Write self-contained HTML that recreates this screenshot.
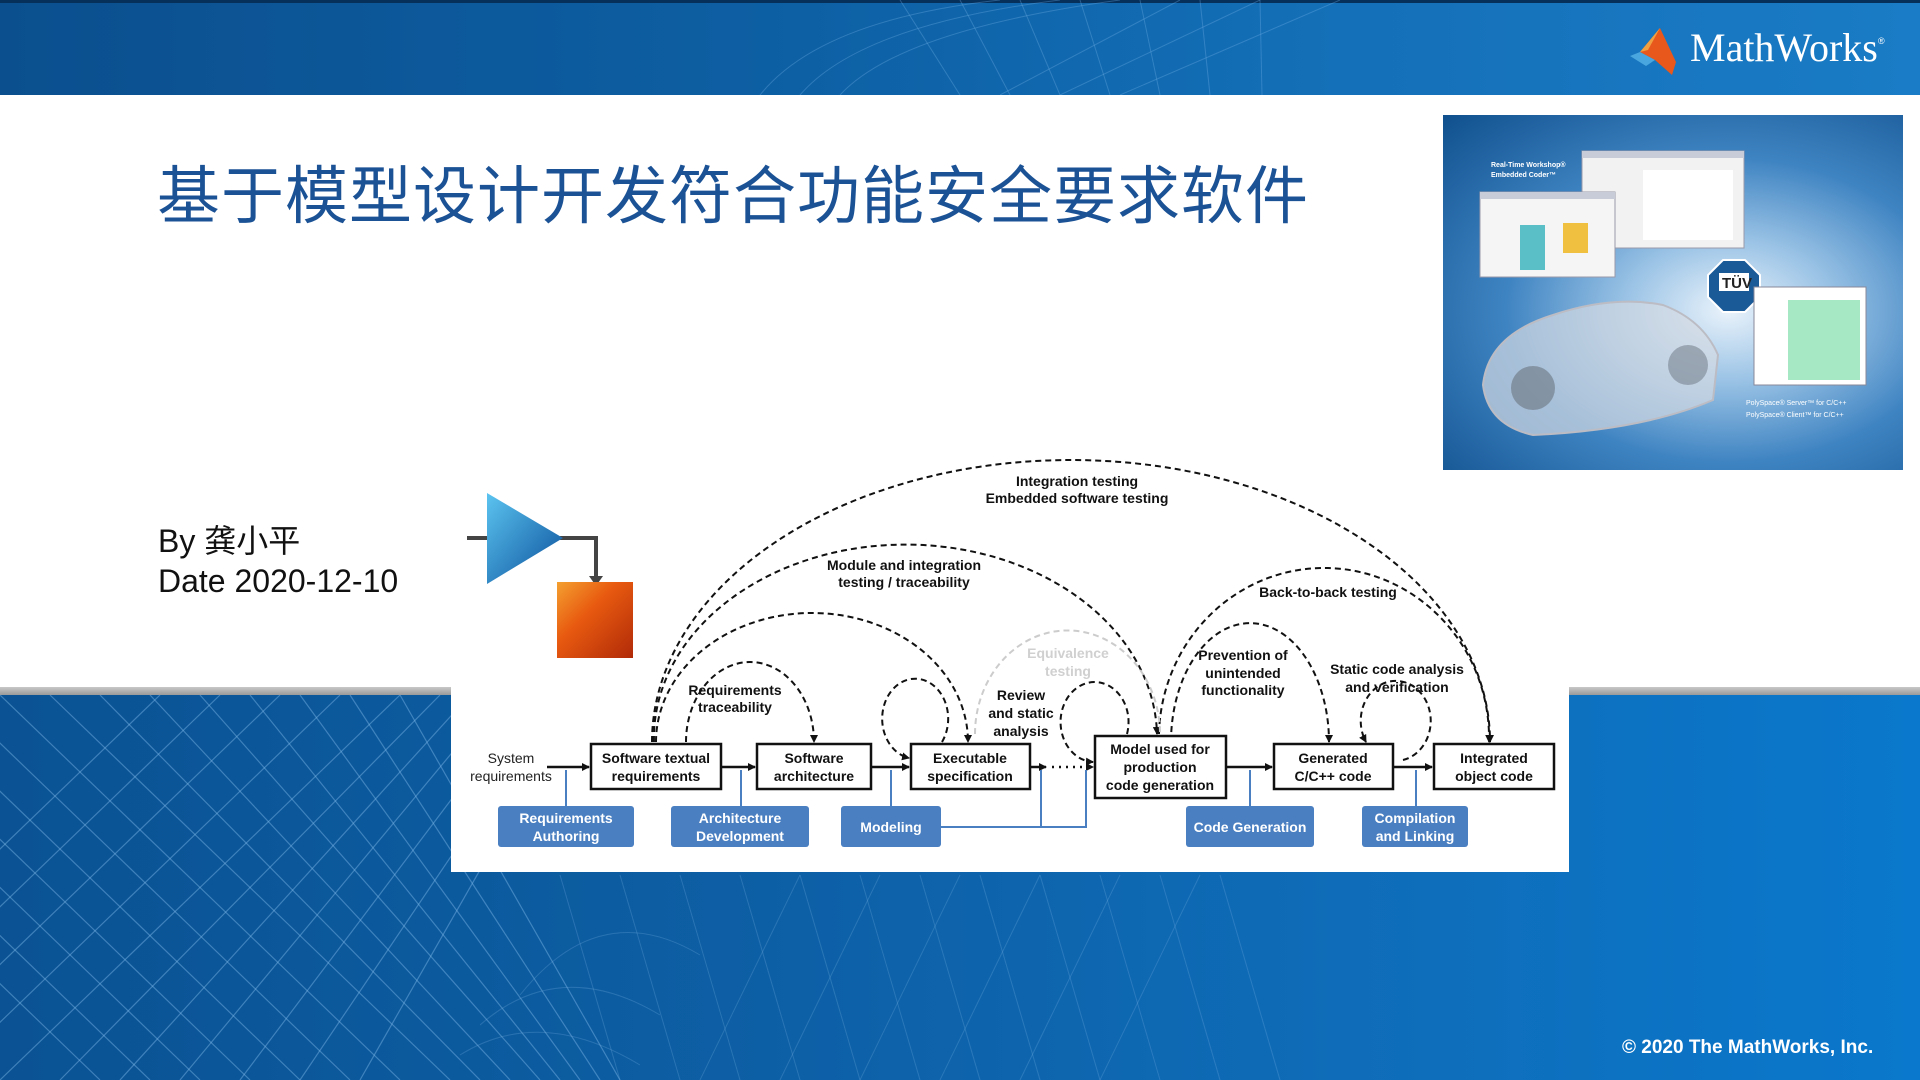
<!DOCTYPE html>
<html><head><meta charset="utf-8"><style>
html,body{margin:0;padding:0}
body{width:1920px;height:1080px;position:relative;overflow:hidden;background:#fff;font-family:"Liberation Sans","Noto Sans CJK SC",sans-serif}
.abs{position:absolute}
</style></head><body>
<!-- header -->
<div class="abs" style="left:0;top:0;width:1920px;height:95px;background:linear-gradient(90deg,#0b4f8e 0%,#0d5fa3 40%,#1470b8 70%,#1a7cc6 100%);border-top:3px solid #062f5a;box-sizing:border-box"></div>
<svg class="abs" style="left:0;top:0" width="1920" height="95">
<g stroke="#6fb0e6" stroke-opacity="0.35" fill="none" stroke-width="1">
<path d="M760 95 Q820 20 1000 0"/><path d="M800 95 Q860 25 1060 0"/><path d="M840 95 Q900 30 1120 0"/>
<path d="M900 0 L960 95"/><path d="M960 0 L1010 95"/><path d="M1020 0 L1060 95"/><path d="M1080 0 L1110 95"/><path d="M1140 0 L1160 95"/><path d="M1200 0 L1210 95"/><path d="M1260 0 L1262 95"/>
<path d="M1000 95 L1180 0"/><path d="M1060 95 L1260 0"/><path d="M1120 95 L1340 0"/>
</g>
<polygon points="1660,28 1676,62 1672,75 1655,60 1640,52" fill="#e8581c"/>
<polygon points="1660,28 1648,50 1640,52" fill="#f0a040"/>
<polygon points="1640,52 1655,60 1646,66 1630,56" fill="#4aa6de"/>
<text x="1690" y="61" font-family="Liberation Serif,serif" font-size="40" fill="#fff">MathWorks</text>
<text x="1878" y="44" font-family="Liberation Sans" font-size="9" fill="#fff">®</text>
</svg>
<!-- gray separator and bottom -->
<div class="abs" style="left:0;top:687px;width:1920px;height:8px;background:linear-gradient(#c8c8c8,#9a9a9a)"></div>
<div class="abs" style="left:0;top:695px;width:1920px;height:385px;background:linear-gradient(90deg,#0a5293 0%,#0d5fa5 40%,#0f6cb8 70%,#0a78cc 100%)"></div>
<svg class="abs" style="left:0;top:695px" width="1920" height="385">
<g stroke="#7fb8e8" stroke-opacity="0.45" fill="none" stroke-width="1.2">
<path d="M-300 0 L100 385"/><path d="M-250 0 L150 385"/><path d="M-200 0 L200 385"/><path d="M-150 0 L250 385"/><path d="M-100 0 L300 385"/><path d="M-50 0 L350 385"/><path d="M0 0 L400 385"/><path d="M50 0 L450 385"/><path d="M100 0 L480 385"/><path d="M150 0 L510 385"/><path d="M200 0 L540 385"/><path d="M250 0 L560 385"/><path d="M300 0 L580 385"/><path d="M350 0 L600 385"/><path d="M400 0 L620 385"/>
<path d="M0 385 L400 0"/><path d="M-60 385 L340 0"/><path d="M-120 385 L280 0"/><path d="M-180 385 L220 0"/><path d="M-240 385 L160 0"/><path d="M60 385 L440 0"/><path d="M120 385 L470 0"/><path d="M180 385 L500 0"/><path d="M240 385 L530 0"/><path d="M300 385 L560 0"/><path d="M360 385 L580 0"/>
</g>
<g stroke="#7fb8e8" stroke-opacity="0.25" fill="none">
<path d="M560 180 L620 385"/><path d="M620 180 L680 385"/><path d="M680 180 L740 385"/><path d="M740 180 L800 385"/><path d="M800 180 L860 385"/><path d="M860 180 L920 385"/><path d="M920 180 L980 385"/><path d="M980 180 L1040 385"/><path d="M1040 180 L1100 385"/><path d="M1100 180 L1160 385"/><path d="M1160 180 L1220 385"/><path d="M1220 180 L1280 385"/>
<path d="M700 385 L800 180"/><path d="M780 385 L880 180"/><path d="M860 385 L960 180"/><path d="M940 385 L1040 180"/><path d="M1020 385 L1120 180"/><path d="M1100 385 L1200 180"/>
<path d="M520 300 Q600 200 700 260"/><path d="M480 330 Q560 260 660 320"/><path d="M460 360 Q540 310 640 370"/>
</g>
</svg>
<div class="abs" style="left:1622px;top:1037px;font-size:19px;font-weight:bold;color:#fff;white-space:nowrap">© 2020 The MathWorks, Inc.</div>

<!-- title -->
<div class="abs" style="left:157px;top:146px;font-size:63px;color:#1b5296;font-family:'Liberation Sans','Noto Sans CJK SC',sans-serif;letter-spacing:1px;white-space:nowrap">基于模型设计开发符合功能安全要求软件</div>
<div class="abs" style="left:158px;top:516px;font-size:32px;color:#111">By 龚小平</div>
<div class="abs" style="left:158px;top:563px;font-size:32px;color:#111">Date 2020-12-10</div>

<!-- photo -->
<div class="abs" style="left:1443px;top:115px;width:460px;height:355px;background:radial-gradient(ellipse at 62% 55%,#eaf3fb 0%,#9cc4e6 25%,#3f84c2 55%,#0f4f8e 100%)"></div>
<svg class="abs" style="left:1443px;top:115px" width="460" height="355">
<text x="48" y="52" font-size="7" fill="#fff" font-weight="bold">Real-Time Workshop®</text>
<text x="48" y="62" font-size="7" fill="#fff" font-weight="bold">Embedded Coder™</text>
<rect x="139" y="36" width="162" height="97" fill="#f2f2f2" stroke="#99a" />
<rect x="139" y="36" width="162" height="7" fill="#c8ccd8"/>
<rect x="200" y="55" width="90" height="70" fill="#fff"/>
<rect x="37" y="77" width="135" height="85" fill="#f5f5f5" stroke="#99a"/>
<rect x="37" y="77" width="135" height="7" fill="#c8ccd8"/>
<rect x="77" y="110" width="25" height="45" fill="#5bbfc8"/>
<rect x="120" y="108" width="25" height="30" fill="#f0c040"/>
<polygon points="280,145 302,145 317,160 317,182 302,197 280,197 265,182 265,160" fill="#1a5a96" stroke="#fff" stroke-width="2"/>
<rect x="276" y="158" width="30" height="18" fill="#fff"/>
<text x="279" y="173" font-size="15" font-weight="bold" fill="#222">TÜV</text>
<rect x="311" y="172" width="112" height="98" fill="#fff" stroke="#889"/>
<rect x="345" y="185" width="72" height="80" fill="#a6e8c4"/>
<g fill="none" stroke="#bbbcc4" stroke-width="2">
<path d="M40 270 Q45 220 110 200 Q170 180 220 190 Q260 205 275 240 L270 285 Q200 315 90 320 Q45 310 40 270Z" fill="#d4dae2" fill-opacity="0.7"/>
</g>
<circle cx="90" cy="273" r="22" fill="#6a7480" opacity="0.6"/>
<circle cx="245" cy="250" r="20" fill="#6a7480" opacity="0.5"/>
<text x="303" y="290" font-size="7" fill="#fff">PolySpace® Server™ for C/C++</text>
<text x="303" y="302" font-size="7" fill="#fff">PolySpace® Client™ for C/C++</text>
</svg>

<!-- simulink icon -->
<svg class="abs" style="left:460px;top:480px" width="200" height="200">
<defs><linearGradient id="tri" x1="0" y1="0" x2="1" y2="1"><stop offset="0" stop-color="#5cc4f0"/><stop offset="1" stop-color="#0a4f9a"/></linearGradient>
<linearGradient id="sq" x1="0" y1="0" x2="1" y2="1"><stop offset="0" stop-color="#f4a030"/><stop offset=".4" stop-color="#e85a10"/><stop offset="1" stop-color="#b02a08"/></linearGradient></defs>
<line x1="7" y1="58" x2="30" y2="58" stroke="#444" stroke-width="4"/>
<polyline points="100,58 136,58 136,98" fill="none" stroke="#444" stroke-width="4"/>
<polygon points="129,96 143,96 136,106" fill="#444"/>
<polygon points="27,13 103,58 27,104" fill="url(#tri)"/>
<rect x="97" y="102" width="76" height="76" fill="url(#sq)"/>
</svg>

<!-- diagram panel -->
<div class="abs" style="left:451px;top:687px;width:1118px;height:185px;background:#fff"></div>
<svg class="abs" style="left:0;top:0" width="1920" height="1080" font-family="Liberation Sans,sans-serif">
<defs><marker id="ah" markerWidth="8" markerHeight="8" refX="7" refY="4" orient="auto" markerUnits="userSpaceOnUse"><path d="M0,0 L8,4 L0,8Z" fill="#111"/></marker></defs>
<g fill="none" stroke="#111" stroke-width="2" stroke-dasharray="6 4">
<path d="M652 742 A419 282 0 0 1 1490 742" marker-end="url(#ah)"/>
<path d="M654 742 A251 193 0 0 1 1157 734" marker-end="url(#ah)"/>
<path d="M656 742 A156 129 0 0 1 968 742" marker-end="url(#ah)"/>
<path d="M686 742 A64 80 0 0 1 814 742" marker-end="url(#ah)"/>
<path d="M1159 734 A165 170 0 0 1 1489 742" marker-end="url(#ah)"/>
<path d="M1171 742 A79 119 0 0 1 1329 742" marker-end="url(#ah)"/>
<path d="M942 742 A33 40 0 1 0 909 758" marker-end="url(#ah)"/>
<path d="M1127 734 A34 40 0 1 0 1093 762" marker-end="url(#ah)"/>
<path d="M1403 760 A35 40 0 1 0 1366 742" marker-end="url(#ah)"/>
</g>
<path d="M975 734 A92 103 0 0 1 1160 734" fill="none" stroke="#ccc" stroke-width="2" stroke-dasharray="6 4"/>
<g stroke="#111" stroke-width="2.5" fill="none">
<line x1="547" y1="767" x2="589" y2="767" marker-end="url(#ah)"/>
<line x1="721" y1="767" x2="755" y2="767" marker-end="url(#ah)"/>
<line x1="871" y1="767" x2="909" y2="767" marker-end="url(#ah)"/>
<line x1="1030" y1="767" x2="1046" y2="767" marker-end="url(#ah)"/>
<line x1="1052" y1="767" x2="1093" y2="767" stroke-dasharray="2 5" marker-end="url(#ah)"/>
<line x1="1226" y1="767" x2="1272" y2="767" marker-end="url(#ah)"/>
<line x1="1393" y1="767" x2="1432" y2="767" marker-end="url(#ah)"/>
</g>
<g stroke="#4a7fc1" stroke-width="2" fill="none">
<line x1="566" y1="806" x2="566" y2="770"/><line x1="741" y1="806" x2="741" y2="770"/>
<line x1="891" y1="806" x2="891" y2="770"/><polyline points="941,827 1086,827 1086,770"/>
<line x1="1041" y1="827" x2="1041" y2="770"/><line x1="1250" y1="806" x2="1250" y2="770"/><line x1="1416" y1="806" x2="1416" y2="770"/>
</g>
<g fill="#fff" stroke="#111" stroke-width="2.5">
<rect x="591" y="744" width="130" height="45"/><rect x="757" y="744" width="114" height="45"/>
<rect x="911" y="744" width="119" height="45"/><rect x="1095" y="736" width="131" height="62"/>
<rect x="1274" y="744" width="119" height="45"/><rect x="1434" y="744" width="120" height="45"/>
</g>
<g fill="#4a7fc1">
<rect x="498" y="806" width="136" height="41" rx="3"/><rect x="671" y="806" width="138" height="41" rx="3"/>
<rect x="841" y="806" width="100" height="41" rx="3"/><rect x="1186" y="806" width="128" height="41" rx="3"/>
<rect x="1362" y="806" width="106" height="41" rx="3"/>
</g>
<g font-size="14" font-weight="bold" fill="#fff" text-anchor="middle">
<text x="566" y="823">Requirements</text><text x="566" y="841">Authoring</text>
<text x="740" y="823">Architecture</text><text x="740" y="841">Development</text>
<text x="891" y="832">Modeling</text><text x="1250" y="832">Code Generation</text>
<text x="1415" y="823">Compilation</text><text x="1415" y="841">and Linking</text>
</g>
<g font-size="14" font-weight="bold" fill="#111" text-anchor="middle">
<text x="656" y="763">Software textual</text><text x="656" y="781">requirements</text>
<text x="814" y="763">Software</text><text x="814" y="781">architecture</text>
<text x="970" y="763">Executable</text><text x="970" y="781">specification</text>
<text x="1160" y="754">Model used for</text><text x="1160" y="772">production</text><text x="1160" y="790">code generation</text>
<text x="1333" y="763">Generated</text><text x="1333" y="781">C/C++ code</text>
<text x="1494" y="763">Integrated</text><text x="1494" y="781">object code</text>
<text x="1077" y="486">Integration testing</text><text x="1077" y="503">Embedded software testing</text>
<text x="904" y="570">Module and integration</text><text x="904" y="587">testing / traceability</text>
<text x="735" y="695">Requirements</text><text x="735" y="712">traceability</text>
<text x="1021" y="700">Review</text><text x="1021" y="718">and static</text><text x="1021" y="736">analysis</text>
<text x="1328" y="597">Back-to-back testing</text>
<text x="1243" y="660">Prevention of</text><text x="1243" y="678">unintended</text><text x="1243" y="695">functionality</text>
<text x="1397" y="674">Static code analysis</text><text x="1397" y="692">and verification</text>
<text x="1068" y="658" fill="#d0d0d0">Equivalence</text><text x="1068" y="676" fill="#d0d0d0">testing</text>
</g>
<g font-size="14" fill="#222" text-anchor="middle"><text x="511" y="763">System</text><text x="511" y="781">requirements</text></g>
</svg>
</body></html>
